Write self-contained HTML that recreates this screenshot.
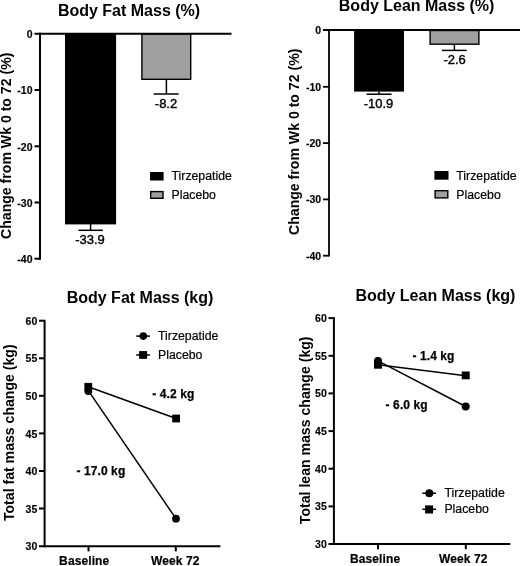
<!DOCTYPE html>
<html><head><meta charset="utf-8">
<style>
html,body{margin:0;padding:0;background:#fff;}
svg{display:block;}
text{font-family:"Liberation Sans",Arial,sans-serif;fill:#000;}
.t{font-size:16px;font-weight:bold;}
.yl{font-size:14.1px;font-weight:bold;}
.tk{font-size:10.5px;font-weight:bold;stroke:#000;stroke-width:0.15px;}
.v{font-size:13px;stroke:#000;stroke-width:0.4px;}
.lg{font-size:12.3px;stroke:#000;stroke-width:0.2px;}
.xl{font-size:12px;font-weight:bold;letter-spacing:0.1px;stroke:#000;stroke-width:0.2px;}
.ann{font-size:12px;font-weight:bold;letter-spacing:0.1px;stroke:#000;stroke-width:0.25px;}
</style></head>
<body>
<svg width="520" height="566" viewBox="0 0 520 566">
<!-- ===== Top-left: Body Fat Mass (%) ===== -->
<text class="t" x="129" y="15.6" text-anchor="middle">Body Fat Mass (%)</text>
<text class="yl" transform="translate(10.6,145.8) rotate(-90)" text-anchor="middle">Change from Wk 0 to 72 (%)</text>
<g stroke="#000" fill="none">
  <line x1="40" y1="32.8" x2="40" y2="259.7" stroke-width="2"/>
  <line x1="34.5" y1="90" x2="40" y2="90" stroke-width="2"/>
  <line x1="34.5" y1="146.3" x2="40" y2="146.3" stroke-width="2"/>
  <line x1="34.5" y1="202.5" x2="40" y2="202.5" stroke-width="2"/>
  <line x1="34.5" y1="258.7" x2="40" y2="258.7" stroke-width="2"/>
</g>
<g class="tk" text-anchor="end">
  <text class="tk" x="32.5" y="38.2">0</text>
  <text class="tk" x="32.5" y="94.2">-10</text>
  <text class="tk" x="32.5" y="150.5">-20</text>
  <text class="tk" x="32.5" y="206.7">-30</text>
  <text class="tk" x="32.5" y="262.9">-40</text>
</g>
<rect x="65" y="34" width="51.1" height="190.4" fill="#000"/>
<rect x="141.9" y="34" width="48.8" height="45.3" fill="#9f9f9f" stroke="#000" stroke-width="1.4"/>
<line x1="34.5" y1="33.8" x2="231.5" y2="33.8" stroke="#000" stroke-width="2"/>
<g stroke="#000" stroke-width="1.5">
  <line x1="90.6" y1="224" x2="90.6" y2="230.3"/>
  <line x1="78.4" y1="230.3" x2="102.8" y2="230.3"/>
  <line x1="166.4" y1="79" x2="166.4" y2="94"/>
  <line x1="153.7" y1="94" x2="178.7" y2="94"/>
</g>
<text class="v" x="90" y="244" text-anchor="middle">-33.9</text>
<text class="v" x="166" y="107.6" text-anchor="middle">-8.2</text>
<rect x="150" y="172" width="13.6" height="8.5" fill="#000"/>
<rect x="150.7" y="191.6" width="12.3" height="6.7" fill="#9f9f9f" stroke="#000" stroke-width="1.4"/>
<text class="lg" x="171.5" y="180.2">Tirzepatide</text>
<text class="lg" x="171.5" y="199">Placebo</text>

<!-- ===== Top-right: Body Lean Mass (%) ===== -->
<text class="t" x="416.6" y="11.4" text-anchor="middle">Body Lean Mass (%)</text>
<text class="yl" transform="translate(299.1,141.8) rotate(-90)" text-anchor="middle">Change from Wk 0 to 72 (%)</text>
<g stroke="#000" fill="none" stroke-width="1.8">
  <line x1="329" y1="29.6" x2="329" y2="256.5"/>
  <line x1="323" y1="86.8" x2="329" y2="86.8"/>
  <line x1="323" y1="143.1" x2="329" y2="143.1"/>
  <line x1="323" y1="199.4" x2="329" y2="199.4"/>
  <line x1="323" y1="255.7" x2="329" y2="255.7"/>
</g>
<g text-anchor="end">
  <text class="tk" x="321.2" y="34.3">0</text>
  <text class="tk" x="321.2" y="90.6">-10</text>
  <text class="tk" x="321.2" y="146.9">-20</text>
  <text class="tk" x="321.2" y="203.2">-30</text>
  <text class="tk" x="321.2" y="259.5">-40</text>
</g>
<rect x="354.1" y="30.5" width="49.9" height="61.1" fill="#000"/>
<rect x="430.1" y="30.5" width="48.8" height="13.7" fill="#9f9f9f" stroke="#000" stroke-width="1.4"/>
<line x1="323" y1="30" x2="520" y2="30" stroke="#000" stroke-width="1.8"/>
<g stroke="#000" stroke-width="1.5">
  <line x1="379" y1="91.6" x2="379" y2="94.2"/>
  <line x1="366.5" y1="94.2" x2="391.6" y2="94.2"/>
  <line x1="454.4" y1="44.5" x2="454.4" y2="50.4"/>
  <line x1="442" y1="50.4" x2="466.7" y2="50.4"/>
</g>
<text class="v" x="378.5" y="107.8" text-anchor="middle">-10.9</text>
<text class="v" x="454.6" y="63.7" text-anchor="middle">-2.6</text>
<rect x="434.4" y="171" width="14.1" height="8.7" fill="#000"/>
<rect x="435.1" y="190.7" width="12.7" height="7.2" fill="#9f9f9f" stroke="#000" stroke-width="1.4"/>
<text class="lg" x="456.3" y="179.8">Tirzepatide</text>
<text class="lg" x="456.3" y="198.5">Placebo</text>

<!-- ===== Bottom-left: Body Fat Mass (kg) ===== -->
<text class="t" x="140" y="302.7" text-anchor="middle">Body Fat Mass (kg)</text>
<text class="yl" transform="translate(14.1,432.7) rotate(-90)" text-anchor="middle">Total fat mass change (kg)</text>
<g stroke="#000" fill="none" stroke-width="2">
  <line x1="44.6" y1="319.9" x2="44.6" y2="547.2"/>
  <line x1="39" y1="320.7" x2="44.6" y2="320.7"/>
  <line x1="39" y1="358.3" x2="44.6" y2="358.3"/>
  <line x1="39" y1="395.8" x2="44.6" y2="395.8"/>
  <line x1="39" y1="433.4" x2="44.6" y2="433.4"/>
  <line x1="39" y1="471.0" x2="44.6" y2="471.0"/>
  <line x1="39" y1="508.5" x2="44.6" y2="508.5"/>
  <line x1="39" y1="546.2" x2="220.4" y2="546.2"/>
  <line x1="88.5" y1="546.2" x2="88.5" y2="551.4"/>
  <line x1="175.8" y1="546.2" x2="175.8" y2="551.4"/>
</g>
<g text-anchor="end">
  <text class="tk" x="37.3" y="324.8">60</text>
  <text class="tk" x="37.3" y="362.4">55</text>
  <text class="tk" x="37.3" y="399.9">50</text>
  <text class="tk" x="37.3" y="437.5">45</text>
  <text class="tk" x="37.3" y="475.1">40</text>
  <text class="tk" x="37.3" y="512.6">35</text>
  <text class="tk" x="37.3" y="550.2">30</text>
</g>
<text class="xl" x="84.2" y="565.4" text-anchor="middle">Baseline</text>
<text class="xl" x="175.2" y="564.8" text-anchor="middle">Week 72</text>
<g stroke="#000" stroke-width="1.5">
  <line x1="88.3" y1="390.6" x2="176" y2="518.7"/>
  <line x1="88.3" y1="386.8" x2="176.1" y2="418.5"/>
  <line x1="136.2" y1="336.1" x2="150" y2="336.1"/>
  <line x1="136.2" y1="355" x2="150" y2="355"/>
</g>
<circle cx="88.3" cy="391" r="3.9"/>
<rect x="84.4" y="382.9" width="7.8" height="7.8"/>
<circle cx="176" cy="518.7" r="3.9"/>
<rect x="172.2" y="414.6" width="7.8" height="7.8"/>
<circle cx="143.3" cy="336.1" r="3.8"/>
<rect x="139.1" y="351.1" width="8" height="7.8"/>
<text class="lg" x="158" y="340.2">Tirzepatide</text>
<text class="lg" x="158" y="359">Placebo</text>
<text class="ann" x="152.3" y="398.2">- 4.2 kg</text>
<text class="ann" x="76.4" y="474.9">- 17.0 kg</text>

<!-- ===== Bottom-right: Body Lean Mass (kg) ===== -->
<text class="t" x="435.4" y="301.1" text-anchor="middle">Body Lean Mass (kg)</text>
<text class="yl" transform="translate(310,430.3) rotate(-90)" text-anchor="middle">Total lean mass change (kg)</text>
<g stroke="#000" fill="none" stroke-width="2">
  <line x1="333.9" y1="317.1" x2="333.9" y2="545"/>
  <line x1="328.5" y1="318.1" x2="333.9" y2="318.1"/>
  <line x1="328.5" y1="355.8" x2="333.9" y2="355.8"/>
  <line x1="328.5" y1="393.4" x2="333.9" y2="393.4"/>
  <line x1="328.5" y1="431.1" x2="333.9" y2="431.1"/>
  <line x1="328.5" y1="468.7" x2="333.9" y2="468.7"/>
  <line x1="328.5" y1="506.4" x2="333.9" y2="506.4"/>
  <line x1="328.5" y1="544" x2="510.4" y2="544"/>
  <line x1="378" y1="544" x2="378" y2="549.2"/>
  <line x1="465.8" y1="544" x2="465.8" y2="549.2"/>
</g>
<g text-anchor="end">
  <text class="tk" x="326.8" y="322.1">60</text>
  <text class="tk" x="326.8" y="359.8">55</text>
  <text class="tk" x="326.8" y="397.4">50</text>
  <text class="tk" x="326.8" y="435.1">45</text>
  <text class="tk" x="326.8" y="472.7">40</text>
  <text class="tk" x="326.8" y="510.4">35</text>
  <text class="tk" x="326.8" y="548.0">30</text>
</g>
<text class="xl" x="375.1" y="562.6" text-anchor="middle">Baseline</text>
<text class="xl" x="463.3" y="562.6" text-anchor="middle">Week 72</text>
<g stroke="#000" stroke-width="1.5">
  <line x1="378" y1="360.9" x2="465.7" y2="406.5"/>
  <line x1="378" y1="364.7" x2="465.7" y2="375.8"/>
  <line x1="422.3" y1="493.2" x2="436" y2="493.2"/>
  <line x1="422.3" y1="509.3" x2="436" y2="509.3"/>
</g>
<circle cx="378" cy="360.9" r="4"/>
<rect x="374" y="360.7" width="8" height="8"/>
<circle cx="465.7" cy="406.5" r="4"/>
<rect x="461.7" y="371.5" width="8" height="7.8"/>
<circle cx="429.3" cy="493.3" r="4"/>
<rect x="425.1" y="505.4" width="8" height="8.1"/>
<text class="lg" x="444.4" y="497.3">Tirzepatide</text>
<text class="lg" x="444.4" y="513">Placebo</text>
<text class="ann" x="412.4" y="359.6">- 1.4 kg</text>
<text class="ann" x="385.6" y="409.2">- 6.0 kg</text>
</svg>
</body></html>
